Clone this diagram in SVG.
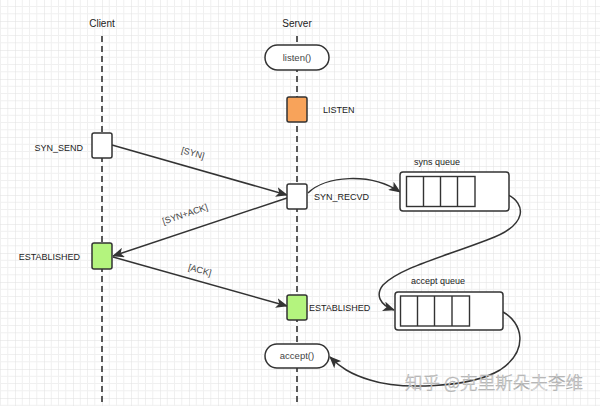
<svg xmlns="http://www.w3.org/2000/svg" width="600" height="406" viewBox="0 0 600 406">
<style>
.t{font-family:"Liberation Sans",Arial,sans-serif;font-size:9px;fill:#222;}
.h{font-family:"Liberation Sans",Arial,sans-serif;font-size:10px;fill:#222;text-anchor:middle;}
.lab{font-family:"Liberation Sans",Arial,sans-serif;font-size:9px;fill:#444;text-anchor:middle;}
.life{stroke:#333;stroke-width:1.6;stroke-dasharray:6,4;fill:none;}
.box{stroke:#333;stroke-width:1.5;}
.pill{fill:#fff;stroke:#333;stroke-width:1.5;}
.q{fill:#fff;stroke:#333;stroke-width:1.5;}
.c{fill:none;stroke:#333;stroke-width:1.4;}
.conn{fill:none;stroke:#333;stroke-width:1.5;marker-end:url(#ah);}
</style>
<defs>
<pattern id="grid" x="15" y="21" width="29" height="29" patternUnits="userSpaceOnUse">
<path d="M7.25 0V29M14.5 0V29M21.75 0V29M0 7.25H29M0 14.5H29M0 21.75H29" stroke="#f0f0f0" stroke-width="1" fill="none"/>
<path d="M0 0V29M0 0H29" stroke="#e0e0e0" stroke-width="1" fill="none"/>
</pattern>
<marker id="ah" viewBox="0 0 12 10" refX="11" refY="5" markerWidth="12" markerHeight="10" markerUnits="userSpaceOnUse" orient="auto">
<path d="M0 0L12 5L0 10L3 5Z" fill="#333"/>
</marker>
</defs>
<rect width="600" height="406" fill="#fff"/>
<rect width="600" height="406" fill="url(#grid)"/>

<g id="client-lifeline">
<text class="h" x="102" y="27">Client</text>
<line class="life" x1="102" y1="36" x2="102" y2="406"/>
</g>
<g id="server-lifeline">
<text class="h" x="297" y="27">Server</text>
<line class="life" x1="297" y1="36" x2="297" y2="406"/>
</g>

<g id="connectors">
<line class="conn" x1="112" y1="145" x2="287" y2="195"/>
<line class="conn" x1="287" y1="198" x2="113" y2="256"/>
<line class="conn" x1="113" y1="257" x2="287" y2="306"/>
<path class="conn" d="M308 193 C325 176 370 172 400 192"/>
<path class="conn" d="M508 195 C525 203 530 225 487 240 C440 258 400 268 383 285 C375 295 380 305 394 310"/>
<path class="conn" d="M503 312 C522 322 530 350 500 370 C470 388 400 390 370 380 C350 374 340 367 330 357"/>
<text class="lab" transform="translate(192 156) rotate(16)">[SYN]</text>
<text class="lab" transform="translate(186 217) rotate(-18.4)">[SYN+ACK]</text>
<text class="lab" transform="translate(199 273) rotate(15.7)">[ACK]</text>
</g>

<g id="listen">
<rect class="pill" x="265" y="45" width="64" height="25" rx="12.5"/>
<text class="lab" x="297" y="61" style="font-size:9.5px">listen()</text>
</g>
<g id="listen-state">
<rect class="box" x="287" y="97" width="20" height="25" rx="2" fill="#F8A35A"/>
<text class="t" x="323" y="113">LISTEN</text>
</g>
<g id="syn-send">
<rect class="box" x="92" y="133" width="20" height="25" rx="2" fill="#fff"/>
<text class="t" x="83" y="151" text-anchor="end">SYN_SEND</text>
</g>
<g id="syn-recvd">
<rect class="box" x="287" y="184" width="20" height="25" rx="2" fill="#fff"/>
<text class="t" x="314" y="200">SYN_RECVD</text>
</g>
<g id="client-established">
<rect class="box" x="92" y="243" width="20" height="26" rx="2" fill="#B4F47E"/>
<text class="t" x="80" y="260" text-anchor="end">ESTABLISHED</text>
</g>
<g id="server-established">
<rect class="box" x="287" y="295" width="20" height="25" rx="2" fill="#B4F47E"/>
<text class="t" x="309" y="311">ESTABLISHED</text>
</g>
<g id="accept">
<rect class="pill" x="265" y="344" width="64" height="24" rx="12"/>
<text class="lab" x="297" y="359" style="font-size:9.5px">accept()</text>
</g>
<g id="syns-queue">
<text class="t" x="437" y="165" text-anchor="middle">syns queue</text>
<rect class="q" x="400" y="172" width="109" height="39" rx="3"/>
<rect class="c" x="406.5" y="176.5" width="68.5" height="30"/>
<path class="c" d="M423.5 176.5V206.5M440.5 176.5V206.5M457.5 176.5V206.5"/>
</g>
<g id="accept-queue">
<text class="t" x="438" y="284" text-anchor="middle">accept queue</text>
<rect class="q" x="395" y="292" width="108" height="38" rx="3"/>
<rect class="c" x="400.5" y="296" width="69" height="30"/>
<path class="c" d="M417.5 296V326M434.5 296V326M452 296V326"/>
</g>

<text x="405" y="389" textLength="178" style="font-family:'Noto Sans CJK SC','Noto Sans',sans-serif;font-size:17.5px;font-weight:300;fill:#fff;fill-opacity:0.9;stroke:#aaa;stroke-width:0.5;">知乎 @克里斯朵夫李维</text>
</svg>
